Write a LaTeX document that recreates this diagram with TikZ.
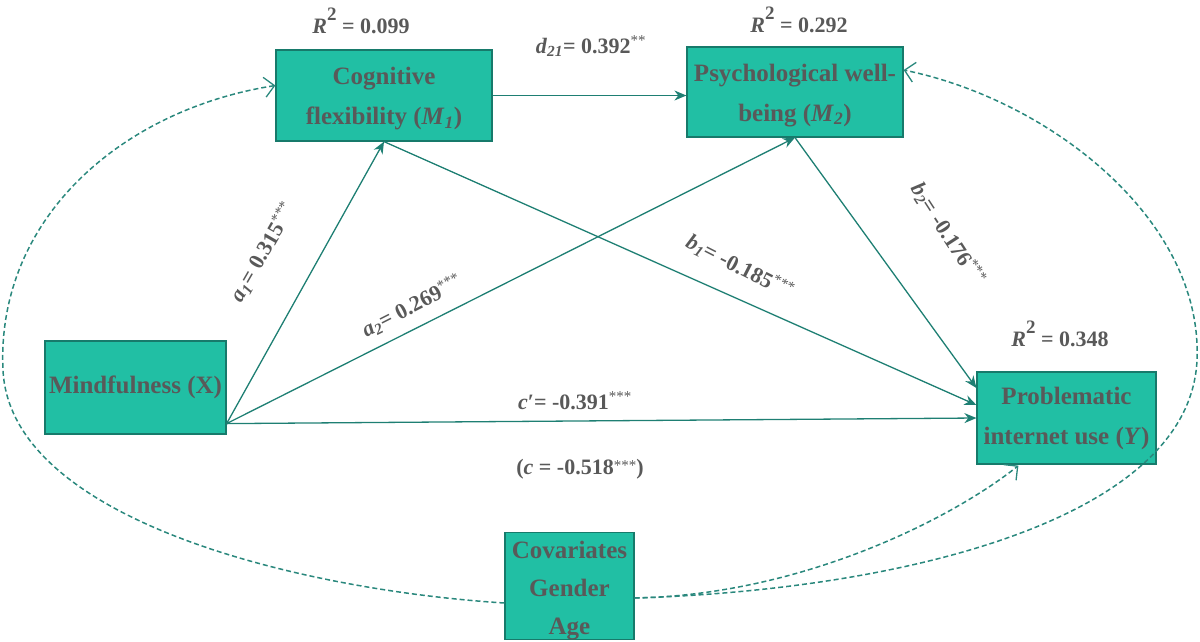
\documentclass[tikz,border=0pt]{standalone}
\usepackage{fontspec}
\setmainfont{Liberation Serif}
\usetikzlibrary{arrows.meta,calc}
\definecolor{boxfill}{HTML}{21BFA4}
\definecolor{boxdraw}{HTML}{177A6B}
\definecolor{txt}{HTML}{595959}
\definecolor{arr}{HTML}{1E7F73}
\definecolor{dashc}{HTML}{2A887D}
\newcommand{\stars}[1]{{\fontsize{15}{15}\selectfont\mdseries #1}}
\newcommand{\rsq}{\textit{R}\raisebox{13pt}{\fontsize{19}{19}\selectfont 2}}
\begin{document}
\begin{tikzpicture}[x=1pt,y=-1pt,
  box/.style={draw=boxdraw,fill=boxfill,line width=1.2pt,text=txt,
    font=\fontsize{25}{40}\selectfont\bfseries,align=center,inner sep=0pt},
  lbl/.style={text=txt,font=\fontsize{22}{26}\selectfont\bfseries,inner sep=0pt},
  solidarrow/.style={draw=arr,line width=1.3pt,-{Stealth[length=12pt,width=10pt]}},
  covarrow/.style={draw=dashc,line width=1.5pt,dash pattern=on 5pt off 3pt,
    -{Straight Barb[length=10pt,width=20pt,line width=1.3pt]}}
]
\useasboundingbox (0,0) rectangle (1200,641);

% boxes
\node[box,minimum width=216pt,minimum height=91pt] (M1) at (384,95.5)
  {\rule{0pt}{24pt}Cognitive\\flexibility (\textit{M}\textsubscript{\textit{1}})};
\node[box,minimum width=216pt,minimum height=90pt] (M2) at (795,92)
  {\rule{0pt}{24pt}Psychological well-\\being (\textit{M}\textsubscript{\textit{2}})};
\node[box,minimum width=181pt,minimum height=93pt] (X) at (135.5,387.5)
  {Mindfulness (X)};
\node[box,minimum width=179pt,minimum height=92pt] (Y) at (1066.5,418)
  {Problematic\\internet use (\textit{Y})};
\node[box,minimum width=129pt,minimum height=106pt,
  font=\fontsize{25}{38}\selectfont\bfseries] (Cov) at (569.5,586)
  {\rule{0pt}{26pt}Covariates\\Gender\\Age};

% helper points
\coordinate (xo) at ($(X.south east)+(0,-11)$);

% solid paths
\draw[solidarrow] (xo) -- (M1.south);
\draw[solidarrow] (xo) -- (M2.south);
\draw[solidarrow] (xo) -- (Y.west);
\draw[solidarrow] (M1.east) -- (M1.east -| M2.west);
\draw[solidarrow] (M1.south) -- ($(Y.west)+(0,-13)$);
\draw[solidarrow] (M2.south) -- ($(Y.west)+(0,-30)$);

% dashed covariate paths
\draw[covarrow] ($(Cov.west)+(0,17)$) .. controls (300,590) and (10,520) .. (3,370)
  .. controls (-4,220) and (120,110) .. ($(M1.west)+(0,-10)$);
\draw[covarrow] ($(Cov.east)+(0,12)$) .. controls (800,595) and (950,520) .. ($(Y.south west)+(42,1)$);
\draw[covarrow] ($(Cov.east)+(0,12)$) .. controls (900,590) and (1190,520) .. (1197,360)
  .. controls (1203,220) and (1050,100) .. ($(M2.east)+(0,-22)$);

% labels
\node[lbl,anchor=base] (r1) at (361,33) {\rsq\ = 0.099};
\node[lbl,anchor=base] (r2) at (799,32) {\rsq\ = 0.292};
\node[lbl,anchor=base] (r3) at (1060,346) {\rsq\ = 0.348};
\node[lbl,anchor=base] (ld) at (591,53)
  {\textit{d}\textsubscript{\textit{21}}= 0.392\textsuperscript{\stars{**}}};
\node[lbl,rotate=60] (la1) at (263,252)
  {\textit{a}\textsubscript{\textit{1}}= 0.315\textsuperscript{\stars{***}}};
\node[lbl,rotate=27] (la2) at (412,306)
  {\textit{a}\textsubscript{\textit{2}}= 0.269\textsuperscript{\stars{***}}};
\node[lbl,rotate=-27] (lb1) at (740,267)
  {\textit{b}\textsubscript{\textit{1}}= -0.185\textsuperscript{\stars{***}}};
\node[lbl,rotate=-57] (lb2) at (948,234)
  {\textit{b}\textsubscript{\textit{2}}= -0.176\textsuperscript{\stars{***}}};
\node[lbl,anchor=base] (lc1) at (575,409)
  {\textit{c}′= -0.391\textsuperscript{\stars{***}}};
\node[lbl,anchor=base] (lc) at (580,474)
  {(\textit{c} = -0.518\raisebox{4pt}{\stars{***}})};
\end{tikzpicture}
\end{document}
